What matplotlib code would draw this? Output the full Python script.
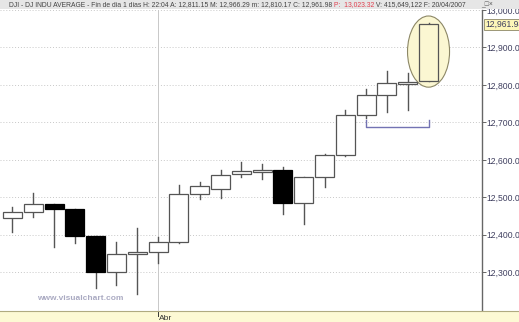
import matplotlib
matplotlib.use("Agg")
import matplotlib.pyplot as plt
from matplotlib.patches import Rectangle, Ellipse

plt.rcParams["font.family"] = ["Liberation Sans", "DejaVu Sans"]

# DJI daily candles, 22/03/2007 .. 20/04/2007
opens = [12445, 12461, 12481, 12469, 12396, 12301, 12349, 12355, 12382, 12510,
         12522, 12562, 12568, 12573, 12485, 12553, 12612, 12720, 12773, 12803,
         12811.15]
highs = [12474, 12511, 12482, 12470, 12396, 12381, 12419, 12395, 12533, 12541,
         12573, 12594, 12589, 12581, 12554, 12616, 12733, 12789, 12837, 12832,
         12966.29]
lows = [12407, 12447, 12367, 12378, 12258, 12266, 12242, 12325, 12379, 12495,
        12498, 12554, 12549, 12456, 12430, 12528, 12610, 12711, 12727, 12733,
        12810.17]
closes = [12461, 12481, 12469, 12397, 12300, 12349, 12354, 12382, 12510, 12530,
          12560, 12569, 12574, 12485, 12553, 12612, 12720, 12773, 12804, 12809,
          12961.98]

yticks = [12300, 12400, 12500, 12600, 12700, 12800, 12900, 13000]
last_close = 12961.98
month_idx = 7          # first session of April
month_label = "Abr"
bracket = (17, 20, 12688, 12706)   # x0, x1, y, tip

header = ("DJI - DJ INDU AVERAGE - Fin de dia 1 dias H: 22:04 A: 12,811.15 "
          "M: 12,966.29 m: 12,810.17 C: 12,961.98 ")
header_p = "P:  13,023.32"
header_tail = " V: 415,649,122 F: 20/04/2007"

W, H = 519, 322
fig = plt.figure(figsize=(W / 100, H / 100), dpi=100)
fig.patch.set_facecolor("white")

# bottom date strip
fig.patches.append(Rectangle((0, 0), 1, 11 / H, transform=fig.transFigure,
                             facecolor="#fdf9d4", edgecolor="none"))

ax = fig.add_axes([0, 11 / H, 482 / W, (H - 21) / H])
ax.set_facecolor("white")
ax.set_xlim(-0.6, 22.57)
ax.set_ylim(12196.5, 13000)

for t in yticks:
    ax.axhline(t, color="#c8c8c8", lw=0.7, ls=(0, (1, 2)), zorder=0)
ax.axvline(month_idx, color="#c8c8c8", lw=0.7, zorder=0)

# highlight ellipse around the last session
ax.add_patch(Ellipse((20, 12889), 2.02, 190, facecolor="#fbf7d2",
                     edgecolor="#8c8766", lw=0.8, zorder=1))

w = 0.91
for i, (o, h, l, c) in enumerate(zip(opens, highs, lows, closes)):
    ax.plot([i, i], [l, h], color="#555555", lw=1.0, zorder=2)
    up = c >= o
    if i == len(opens) - 1:
        fc = "#fbf7d2"
    else:
        fc = "white" if up else "black"
    ax.add_patch(Rectangle((i - w / 2, min(o, c)), w, max(abs(c - o), 2),
                           facecolor=fc, edgecolor="#555555" if up else "black",
                           lw=0.9, zorder=3))

x0, x1, yb, ytip = bracket
ax.plot([x0, x0, x1, x1], [ytip, yb, yb, ytip], color="#7373b3", lw=1.0, zorder=2)

ax.text(0.077, 0.03, "www.visualchart.com", transform=ax.transAxes,
        fontsize=6.0, fontweight="bold", color="#aaaac2", va="bottom")

for s in ["top", "left", "bottom"]:
    ax.spines[s].set_visible(False)
ax.spines["right"].set_color("#666666")
ax.spines["right"].set_linewidth(1.0)
ax.yaxis.tick_right()
ax.set_yticks(yticks)
ax.set_yticklabels([f"{t:,.2f}" for t in yticks])
ax.tick_params(axis="y", length=3, width=0.7, color="#666666", pad=0.5,
               labelsize=6.2, labelcolor="#404060")
ax.set_xticks([])

# current price marker
ax.text(1.006, last_close, f"{last_close:,.2f}", transform=ax.get_yaxis_transform(),
        fontsize=6.2, color="#404060", va="center", ha="left", clip_on=False,
        bbox=dict(boxstyle="square,pad=0.1", fc="#fdf6b8", ec="#8c8766", lw=0.6))

# month label in bottom strip
fig.text(159 / W, 0.5 / H, month_label, fontsize=6, color="#333333",
         ha="left", va="bottom")
fig.add_artist(plt.Line2D([158 / W, 158 / W], [6 / H, 11 / H], color="#333333",
                          lw=0.7, transform=fig.transFigure))
fig.add_artist(plt.Line2D([0, 1], [11 / H, 11 / H], color="#b0aa80",
                          lw=0.8, transform=fig.transFigure))

# title bar drawn over the top of the plot
fig.add_artist(Rectangle((0, 1 - 9 / H), 1, 9 / H, transform=fig.transFigure,
                         facecolor="#e6e6e6", edgecolor="none", zorder=5))
kw = dict(fontsize=4.85, va="center", zorder=6)
t1 = fig.text(9 / W, 1 - 4.5 / H, header, color="#444444", **kw)
fig.canvas.draw()
bb = t1.get_window_extent()
t2 = fig.text(bb.x1 / W, 1 - 4.5 / H, header_p, color="#e0404f", **kw)
fig.canvas.draw()
bb = t2.get_window_extent()
fig.text(bb.x1 / W, 1 - 4.5 / H, header_tail, color="#444444", **kw)
fig.text(481 / W, 1 - 4.5 / H, "_□×", color="#555555", **kw)

fig.savefig("out.png", dpi=100)
